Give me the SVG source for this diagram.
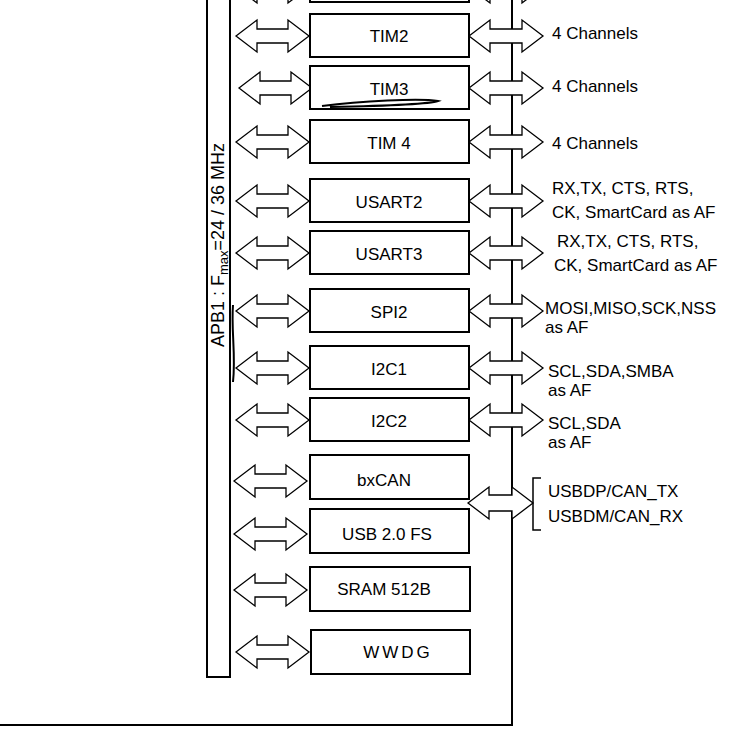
<svg xmlns="http://www.w3.org/2000/svg" width="750" height="729" viewBox="0 0 750 729">
<style>
.b{fill:#fff;stroke:#000;stroke-width:2}
.a{fill:#fff;stroke:#000;stroke-width:1.3}
.t{font-family:"Liberation Sans",Arial,sans-serif;font-size:17px;fill:#000}
.c{text-anchor:middle}
.l{fill:none;stroke:#000;stroke-width:2}
</style>
<defs>
<path id="la" class="a" d="M0,0 L21,-16 L21,-7 L52,-7 L52,-16 L73,0 L52,16 L52,7 L21,7 L21,16 Z"/>
<path id="ra" class="a" d="M0,0 L21,-16 L21,-7 L53,-7 L53,-16 L74,0 L53,16 L53,7 L21,7 L21,16 Z"/>
</defs>
<rect x="207" y="-5" width="23" height="682" fill="#fff" stroke="#000" stroke-width="2"/>
<text class="t c" style="font-size:18px" fill="#000" transform="translate(224,245) rotate(-90)">APB1 : F<tspan font-size="13" dy="4" fill="#000">max</tspan><tspan dy="-4" fill="#000">=24 / 36 MHz</tspan></text>
<g id="connectors">
<polyline class="l" points="512,-5 512,725 0,725"/>
<use href="#la" x="236" y="-13"/><use href="#ra" x="469" y="-13"/>
<use href="#la" x="236" y="36"/><use href="#ra" x="469" y="36"/>
<use href="#la" x="239" y="88"/><use href="#ra" x="469" y="88"/>
<use href="#la" x="236" y="142"/><use href="#ra" x="469" y="142"/>
<use href="#la" x="236" y="201"/><use href="#ra" x="469" y="201"/>
<use href="#la" x="236" y="253"/><use href="#ra" x="469" y="253"/>
<use href="#la" x="236" y="311"/><use href="#ra" x="469" y="311"/>
<use href="#la" x="236" y="368"/><use href="#ra" x="469" y="368"/>
<use href="#la" x="236" y="420"/><use href="#ra" x="469" y="420"/>
<use href="#la" x="234" y="481"/>
<use href="#la" x="234" y="534"/>
<use href="#la" x="234" y="590"/>
<use href="#la" x="236" y="652"/>
<path class="a" d="M468,503 L489,487 L489,495 L512,495 L512,487 L533,503 L512,519 L512,511 L489,511 L489,519 Z"/>
<polyline fill="none" stroke="#000" stroke-width="1.5" points="541,478 533,478 533,530 541,530"/>
</g>
<g id="top"><rect class="b" x="310" y="-40" width="159" height="42"/></g>
<g id="tim2"><rect class="b" x="310" y="14" width="159" height="43"/><text class="t c" x="389" y="42">TIM2</text></g>
<g id="tim3"><rect class="b" x="310" y="66" width="159" height="43"/><text class="t c" x="389" y="95">TIM3</text></g>
<g id="tim4"><rect class="b" x="310" y="120" width="159" height="43"/><text class="t c" x="389" y="149">TIM 4</text></g>
<g id="usart2"><rect class="b" x="310" y="179" width="159" height="43"/><text class="t c" x="389" y="208">USART2</text></g>
<g id="usart3"><rect class="b" x="310" y="231" width="159" height="43"/><text class="t c" x="389" y="260">USART3</text></g>
<g id="spi2"><rect class="b" x="310" y="289" width="159" height="43"/><text class="t c" x="389" y="318">SPI2</text></g>
<g id="i2c1"><rect class="b" x="310" y="346" width="159" height="43"/><text class="t c" x="389" y="375">I2C1</text></g>
<g id="i2c2"><rect class="b" x="310" y="398" width="159" height="43"/><text class="t c" x="389" y="427">I2C2</text></g>
<g id="bxcan"><rect class="b" x="310" y="455" width="159" height="44"/><text class="t c" x="384" y="486">bxCAN</text></g>
<g id="usb"><rect class="b" x="310" y="509" width="159" height="44"/><text class="t c" x="387" y="540">USB 2.0 FS</text></g>
<g id="sram"><rect class="b" x="310" y="567" width="160" height="44"/><text class="t c" x="384" y="595">SRAM 512B</text></g>
<g id="wwdg"><rect class="b" x="311" y="630" width="159" height="44"/><text class="t c" x="398" y="658" letter-spacing="3">WWDG</text></g>
<path d="M322,106 C360,101 420,98 438,101 C430,104 380,106 330,107" fill="none" stroke="#000" stroke-width="2"/>
<path d="M233,305 C231,330 236,355 233,382" fill="none" stroke="#000" stroke-width="2"/>
<g id="labels">
<text class="t" x="552" y="39">4 Channels</text>
<text class="t" x="552" y="92">4 Channels</text>
<text class="t" x="552" y="149">4 Channels</text>
<text class="t" x="552" y="194">RX,TX, CTS, RTS,</text>
<text class="t" x="552" y="218">CK, SmartCard as AF</text>
<text class="t" x="557" y="247">RX,TX, CTS, RTS,</text>
<text class="t" x="554" y="271">CK, SmartCard as AF</text>
<text class="t" x="545" y="314">MOSI,MISO,SCK,NSS</text>
<text class="t" x="545" y="333">as AF</text>
<text class="t" x="548" y="377">SCL,SDA,SMBA</text>
<text class="t" x="548" y="396">as AF</text>
<text class="t" x="548" y="429">SCL,SDA</text>
<text class="t" x="548" y="448">as AF</text>
<text class="t" x="548" y="497">USBDP/CAN_TX</text>
<text class="t" x="548" y="522">USBDM/CAN_RX</text>
</g>
</svg>
